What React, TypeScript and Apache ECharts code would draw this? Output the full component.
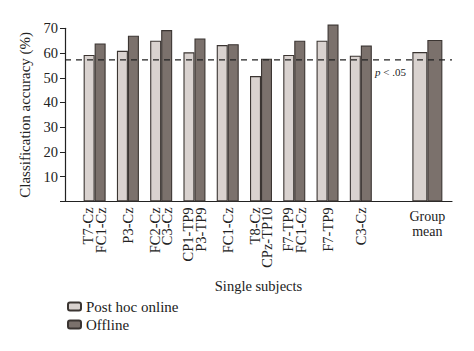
import React, { useEffect, useRef } from "react";
import * as echarts from "echarts";

const categories = [
  "T7-Cz\nFC1-Cz",
  "P3-Cz",
  "FC2-Cz\nC3-Cz",
  "CP1-TP9\nP3-TP9",
  "FC1-Cz",
  "T8-Cz\nCPz-TP10",
  "F7-TP9\nFC1-Cz",
  "F7-TP9",
  "C3-Cz",
  "",
  "Group\nmean",
];
const postHocOnline = [59.2, 60.9, 65.0, 60.3, 63.2, 50.7, 59.2, 65.0, 58.9, "-", "-"];
const offline = [63.9, 67.0, 69.3, 65.9, 63.6, 57.7, 65.0, 71.5, 63.0, "-", "-"];
const meanPostHoc = ["-", "-", "-", "-", "-", "-", "-", "-", "-", "-", 60.4];
const meanOffline = ["-", "-", "-", "-", "-", "-", "-", "-", "-", "-", 65.3];
const threshold = 57.2;
const yTicks = [0, 10, 20, 30, 40, 50, 60, 70];

const FONT = "Liberation Serif";
const LIGHT = "#d9d2cf";
const DARK = "#7b716c";
const BORDER = "#3b3532";

export default function App() {
  const ref = useRef<HTMLDivElement>(null);
  useEffect(() => {
    if (!ref.current) return;
    const chart = echarts.init(ref.current, undefined, { renderer: "svg" });
    const top = 28.3;
    const bottom = 149.6;
    const axisMax = 70;
    const plotH = 351 - top - bottom;
    const barMax = 80;
    const top0 = top - (plotH * (barMax - axisMax)) / axisMax;
    chart.setOption({
      animation: false,
      backgroundColor: "#ffffff",
      textStyle: { fontFamily: FONT },
      grid: [
        { left: 78, right: 30, top: top0, bottom },
        { left: 65, right: 22, top, bottom },
      ],
      legend: {
        data: ["Post hoc online", "Offline"],
        orient: "vertical",
        left: 62,
        top: 294,
        icon: "roundRect",
        itemWidth: 13,
        itemHeight: 8,
        itemGap: 3,
        textStyle: { fontFamily: FONT, fontSize: 15, color: "#222" },
      },
      xAxis: [
        {
          type: "category",
          gridIndex: 0,
          position: "bottom",
          data: categories,
          axisLine: { show: false },
          axisTick: { show: false },
          axisLabel: {
            rotate: 90,
            margin: 6,
            fontFamily: FONT,
            fontSize: 14.5,
            lineHeight: 12.5,
            color: "#222",
            interval: 0,
            formatter: (v: string) => (v.startsWith("Group") ? "" : v),
          },
        },
        {
          type: "category",
          gridIndex: 0,
          position: "bottom",
          data: categories,
          axisLine: { show: false },
          axisTick: { show: false },
          axisLabel: {
            margin: 8,
            fontFamily: FONT,
            fontSize: 14,
            lineHeight: 14.5,
            color: "#222",
            interval: 0,
            formatter: (v: string) => (v.startsWith("Group") ? v : ""),
          },
        },
        {
          type: "value",
          gridIndex: 1,
          min: 0,
          max: 1,
          axisLine: { show: true, lineStyle: { color: "#222", width: 1.2 } },
          axisTick: { show: false },
          axisLabel: { show: false },
          splitLine: { show: false },
          name: "Single subjects",
          nameLocation: "middle",
          nameGap: 77,
          nameTextStyle: { fontFamily: FONT, fontSize: 14.5, color: "#222" },
        },
      ],
      yAxis: [
        {
          type: "value",
          gridIndex: 0,
          min: 0,
          max: barMax,
          interval: 10,
          show: false,
        },
        {
          type: "value",
          gridIndex: 1,
          min: yTicks[0],
          max: yTicks[yTicks.length - 1],
          interval: 10,
          axisLine: { show: true, lineStyle: { color: "#222", width: 1.2 } },
          axisTick: { show: true, length: 5, lineStyle: { color: "#222" } },
          splitLine: { show: false },
          axisLabel: {
            fontFamily: FONT,
            fontSize: 14.5,
            color: "#222",
            margin: 7,
            formatter: (v: number) => (v === 0 ? "" : String(v)),
          },
          name: "Classification accuracy (%)",
          nameLocation: "middle",
          nameGap: 31,
          nameTextStyle: { fontFamily: FONT, fontSize: 15, color: "#222" },
        },
      ],
      graphic: [
        {
          type: "text",
          left: 375,
          top: 66,
          style: {
            text: "{i|p} < .05",
            fontFamily: FONT,
            fontSize: 11,
            fill: "#222",
            rich: { i: { fontStyle: "italic", fontFamily: FONT, fontSize: 11, fill: "#222" } },
          },
        },
      ],
      series: [
        {
          name: "Post hoc online",
          type: "bar",
          xAxisIndex: 0,
          yAxisIndex: 0,
          data: postHocOnline,
          barWidth: 11,
          barGap: "0%",
          itemStyle: { color: LIGHT, borderColor: BORDER, borderWidth: 1.1 },
        },
        {
          name: "Offline",
          type: "bar",
          xAxisIndex: 0,
          yAxisIndex: 0,
          data: offline,
          barWidth: 11,
          barGap: "0%",
          itemStyle: { color: DARK, borderColor: BORDER, borderWidth: 1.1 },
        },
        {
          name: "Post hoc online",
          type: "bar",
          xAxisIndex: 1,
          yAxisIndex: 0,
          data: meanPostHoc,
          barWidth: 15,
          barGap: "0%",
          itemStyle: { color: LIGHT, borderColor: BORDER, borderWidth: 1.1 },
        },
        {
          name: "Offline",
          type: "bar",
          xAxisIndex: 1,
          yAxisIndex: 0,
          data: meanOffline,
          barWidth: 15,
          barGap: "0%",
          itemStyle: { color: DARK, borderColor: BORDER, borderWidth: 1.1 },
        },
        {
          name: "threshold",
          type: "line",
          xAxisIndex: 2,
          yAxisIndex: 1,
          data: [[0, threshold], [1, threshold]],
          symbol: "none",
          silent: true,
          z: 5,
          lineStyle: { color: "#222", width: 1.3, type: [6, 5] },
        },
      ],
    });
    return () => chart.dispose();
  }, []);
  return <div ref={ref} style={{ width: 474, height: 351, position: "absolute", left: 0, top: 0 }} />;
}
